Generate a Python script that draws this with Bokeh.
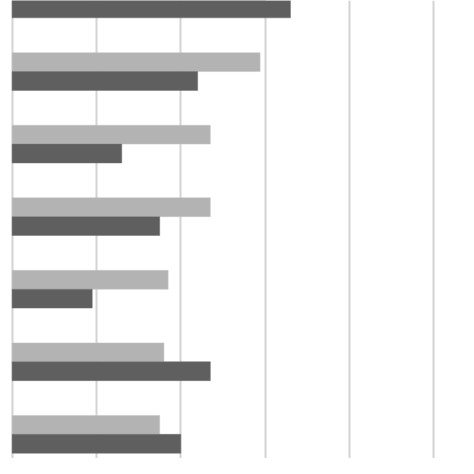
from bokeh.plotting import figure
from bokeh.models import Range1d, Grid, FixedTicker, ColumnDataSource
from bokeh.transform import dodge
from bokeh.embed import file_html
from bokeh.resources import INLINE

# groups from top to bottom (first group is cut off by the crop)
categories = ["A", "B", "C", "D", "E", "F", "G"]
light_values = [30.0, 29.4, 23.5, 23.5, 18.5, 18.0, 17.5]
dark_values = [33.0, 22.0, 13.0, 17.5, 9.5, 23.5, 20.0]
grid_ticks = [0, 10, 20, 30, 40, 50]

source = ColumnDataSource(data=dict(
    pos=list(range(len(categories))),
    cat=categories,
    light=light_values,
    dark=dark_values,
))

p = figure(width=458, height=458, output_backend="svg", toolbar_location=None,
           x_axis_location=None, y_axis_location=None,
           x_range=Range1d(-1.375, 52.92), y_range=Range1d(6.333, 0.021),
           min_border=0, outline_line_color=None)
p.grid.visible = False

p.add_layout(Grid(dimension=0, ticker=FixedTicker(ticks=grid_ticks),
                  grid_line_color="#d3d3d3", grid_line_width=2))

p.hbar(y=dodge("pos", -0.13), right="light", left=0, height=0.26, source=source,
       fill_color="#b3b3b3", line_color="#c4c4c4", line_width=0.5)
p.hbar(y=dodge("pos", 0.13), right="dark", left=0, height=0.26, source=source,
       fill_color="#5f5f5f", line_color="#707070", line_width=0.5)

open("out.html", "w").write(file_html(p, INLINE))
